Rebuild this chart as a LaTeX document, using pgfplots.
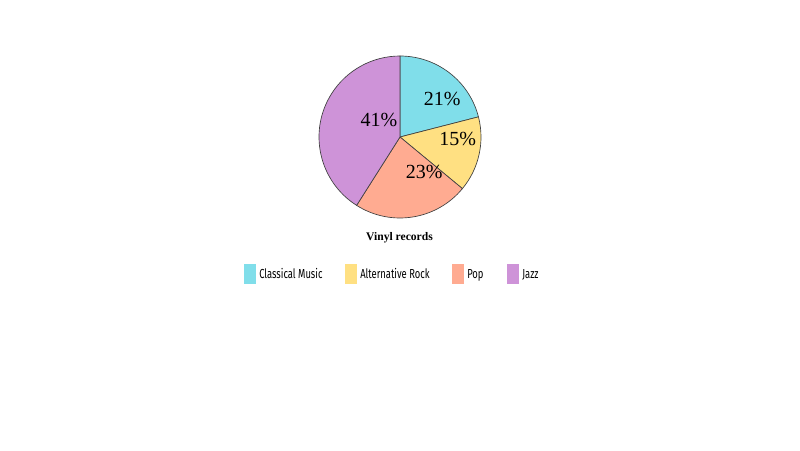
\documentclass[border=0pt]{standalone}
\usepackage{pgfplots}
\pgfplotsset{compat=1.18}
\usepackage{fontspec}
\setmainfont{Liberation Serif}
\newfontfamily\legfont[FakeStretch=0.72]{Fira Sans}

\definecolor{cClassical}{HTML}{80DEEA}
\definecolor{cAltRock}{HTML}{FFE082}
\definecolor{cPop}{HTML}{FFAB91}
\definecolor{cJazz}{HTML}{CE93D8}

% pie centre and radius, in pixels of the 800x450 frame (1px = 0.75pt)
\def\cx{400}
\def\cy{313}
\def\rad{60.75pt}

\begin{document}
\begin{tikzpicture}
  \begin{axis}[
    width=600pt, height=337.5pt,
    scale only axis,
    xmin=0, xmax=800, ymin=0, ymax=450,
    hide axis, clip=false,
  ]
    \path (rel axis cs:0,0) rectangle (rel axis cs:1,1);
    % shares: Classical 21, Alternative Rock 15, Pop 23, Jazz 41 (clockwise from top)
    \filldraw[fill=cClassical, draw=black!75, line width=0.5pt]
      (axis cs:\cx,\cy) -- ++(90:\rad) arc[start angle=90, end angle={90-21*3.6}, radius=\rad] -- cycle;
    \filldraw[fill=cAltRock, draw=black!75, line width=0.5pt]
      (axis cs:\cx,\cy) -- ++({90-21*3.6}:\rad) arc[start angle={90-21*3.6}, end angle={90-36*3.6}, radius=\rad] -- cycle;
    \filldraw[fill=cPop, draw=black!75, line width=0.5pt]
      (axis cs:\cx,\cy) -- ++({90-36*3.6}:\rad) arc[start angle={90-36*3.6}, end angle={90-59*3.6}, radius=\rad] -- cycle;
    \filldraw[fill=cJazz, draw=black!75, line width=0.5pt]
      (axis cs:\cx,\cy) -- ++({90-59*3.6}:\rad) arc[start angle={90-59*3.6}, end angle={90-100*3.6}, radius=\rad] -- cycle;

    % slice labels
    \begin{scope}[every node/.style={font=\fontsize{15pt}{17pt}\selectfont, inner sep=0pt}]
      \node at (axis cs:442.3,350.7) {21\%};
      \node at (axis cs:457.7,310.7) {15\%};
      \node at (axis cs:424.3,278.3) {23\%};
      \node at (axis cs:379,330) {41\%};
    \end{scope}

    % title
    \node[font=\fontsize{8.7pt}{10pt}\selectfont\bfseries, inner sep=0pt]
      at (axis cs:399.5,212.5) {Vinyl records};

    % legend
    \fill[cClassical] (axis cs:244,166) rectangle (axis cs:256,186);
    \fill[cAltRock]   (axis cs:344.5,166) rectangle (axis cs:356.5,186);
    \fill[cPop]       (axis cs:452,166) rectangle (axis cs:464,186);
    \fill[cJazz]      (axis cs:506.5,166) rectangle (axis cs:518.5,186);
    \begin{scope}[every node/.style={font=\legfont\fontsize{9.8pt}{11pt}\selectfont, inner sep=0pt, anchor=base west}]
      \node at (axis cs:259,171) {Classical Music};
      \node at (axis cs:360,171) {Alternative Rock};
      \node at (axis cs:467,171) {Pop};
      \node at (axis cs:522,171) {Jazz};
    \end{scope}
  \end{axis}
\end{tikzpicture}
\end{document}
